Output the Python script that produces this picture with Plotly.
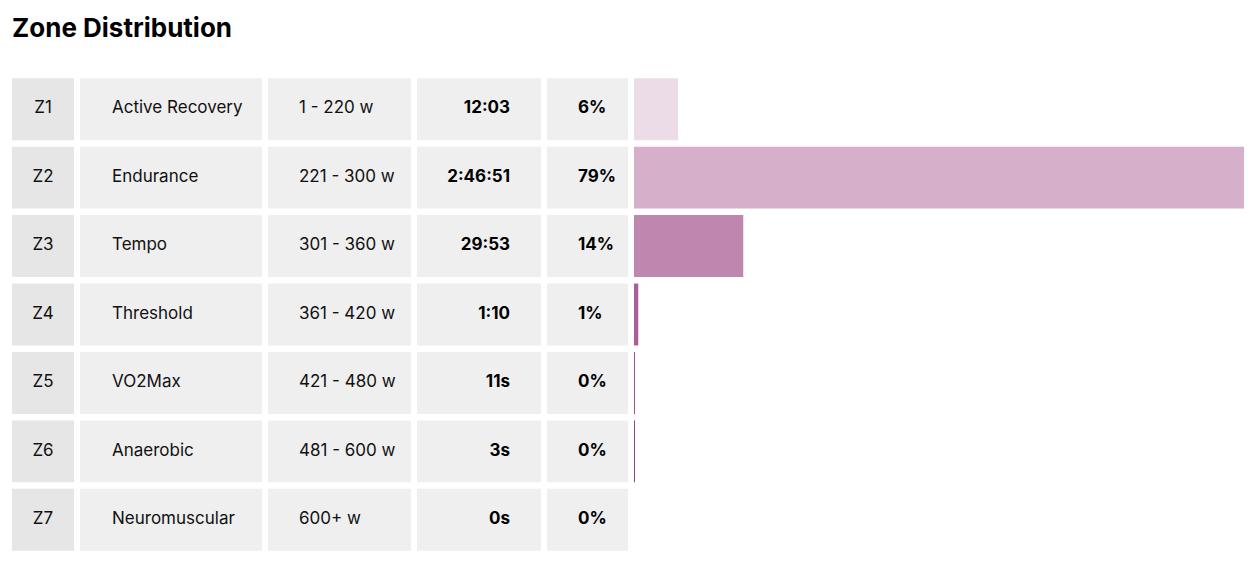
import plotly.graph_objects as go

# ---- data ----
zones = ["Z1", "Z2", "Z3", "Z4", "Z5", "Z6", "Z7"]
zone_names = ["Active Recovery", "Endurance", "Tempo", "Threshold", "VO2Max", "Anaerobic", "Neuromuscular"]
power_ranges = ["1 - 220 w", "221 - 300 w", "301 - 360 w", "361 - 420 w", "421 - 480 w", "481 - 600 w", "600+ w"]
time_labels = ["12:03", "2:46:51", "29:53", "1:10", "11s", "3s", "0s"]
time_seconds = [723, 10011, 1793, 70, 11, 3, 0]
pct_labels = ["6%", "79%", "14%", "1%", "0%", "0%", "0%"]

# ---- styles / layout ----
bar_colors = ["#ecdce7", "#d6b0cb", "#bf87b0", "#a95f99", "#9b5390", "#8c4881", "#7d3d73"]
FONT = "Inter, Roboto, sans-serif"
W, H = 1255, 580
ML, MR, MT, MB = 12, 11, 75, 25.5
# table columns (left, width) in pixel units of the table axis
col_left = [0, 68, 256, 405, 535]
col_width = [62, 182, 143, 124, 81]
col_fill = ["#e6e6e6", "#efefef", "#efefef", "#efefef", "#efefef"]
table_w = W - ML - MR
bar_start = 622
row_thick = 62 / 68.5

fig = go.Figure()

n = len(zones)
for left, width, fill in zip(col_left, col_width, col_fill):
    fig.add_trace(go.Bar(
        y=zones, x=[width] * n, base=[left] * n, orientation="h",
        width=row_thick, marker=dict(color=fill, line=dict(width=0)),
        hoverinfo="skip", showlegend=False, xaxis="x", yaxis="y",
    ))

# data bars
fig.add_trace(go.Bar(
    y=zones, x=time_seconds, orientation="h", width=row_thick,
    marker=dict(color=bar_colors, line=dict(width=0)),
    showlegend=False, xaxis="x2", yaxis="y",
    hovertemplate="%{y}: %{x}s<extra></extra>",
))

txt = dict(family=FONT, size=17, color="#111111")
txt_b = dict(family=FONT, size=17, color="#000000", weight="bold")

def add_text(xpos, labels, pos, font):
    fig.add_trace(go.Scatter(
        x=[xpos] * n, y=zones, text=labels, mode="text",
        textposition=pos, textfont=font, hoverinfo="skip",
        showlegend=False, xaxis="x", yaxis="y", cliponaxis=False,
    ))

add_text(31, zones, "middle center", txt)
add_text(100, zone_names, "middle right", txt)
add_text(287, power_ranges, "middle right", txt)
add_text(498, time_labels, "middle left", txt_b)
add_text(566, pct_labels, "middle right", txt_b)

fig.update_layout(
    width=W, height=H,
    margin=dict(l=ML, r=MR, t=MT, b=MB),
    paper_bgcolor="white", plot_bgcolor="white",
    barmode="overlay",
    title=dict(text="<b>Zone Distribution</b>", x=12 / W, xanchor="left",
               y=1 - 28 / H, yanchor="middle",
               font=dict(family=FONT, size=26, color="#000000")),
    xaxis=dict(range=[0, table_w], domain=[0, 1], visible=False, fixedrange=True),
    xaxis2=dict(range=[0, max(time_seconds)], domain=[bar_start / table_w, 1],
                visible=False, anchor="y", fixedrange=True),
    yaxis=dict(type="category", categoryorder="array", categoryarray=zones,
               range=[n - 0.5, -0.5], visible=False, fixedrange=True),
)

fig.write_html("out.html")
